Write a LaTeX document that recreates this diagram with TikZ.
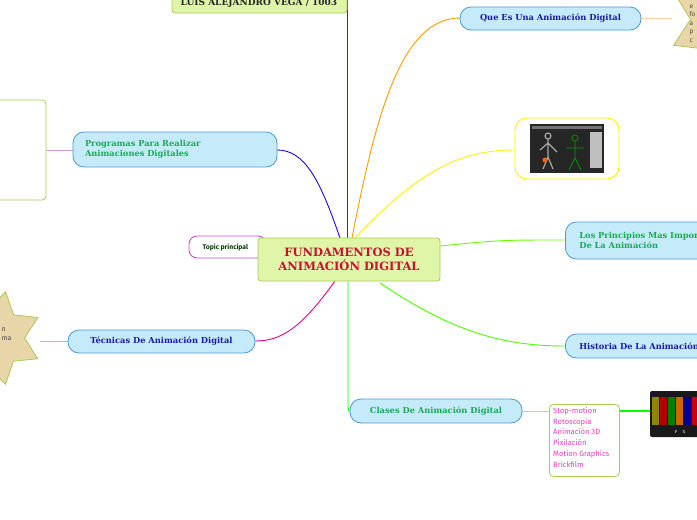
\documentclass[tikz,border=0pt]{standalone}
\usepackage{fontspec}
\setmainfont{DejaVu Serif}
\newfontfamily\sans{Fira Sans}
\usetikzlibrary{shapes.geometric}
\definecolor{bfill}{HTML}{C5EBFA}
\definecolor{bline}{HTML}{4A9AD4}
\definecolor{gfill}{HTML}{DFF5A8}
\definecolor{gline}{HTML}{A8CC55}
\definecolor{dblue}{HTML}{1A1AA0}
\definecolor{tgreen}{HTML}{1AAA55}
\definecolor{crim}{HTML}{C8102E}
\definecolor{sfill}{HTML}{E8D5A8}
\definecolor{pinkt}{HTML}{E040C0}
\tikzset{
 sub/.style={draw=bline,fill=bfill,rounded corners=11pt,line width=0.8pt,font=\bfseries\fontsize{8.3}{10}\selectfont,align=left,inner sep=0pt},
 lnk/.style={line width=0.9pt},
}
\begin{document}
\begin{tikzpicture}[x=1pt,y=-1pt]
\useasboundingbox (0,0) rectangle (697,520);
\clip (0,0) rectangle (697,520);
% connectors
\draw[lnk,blue!80!cyan] (347,238) -- (347,0);
\draw[lnk,orange!80!yellow] (352,238) .. controls (375,120) and (400,18) .. (460,18);
\draw[lnk,yellow] (355,238) .. controls (420,170) and (460,150) .. (515,150);
\draw[lnk,green!60!yellow] (440,246) .. controls (500,240) .. (565,240);
\draw[lnk,green!70!yellow] (380,283) .. controls (450,330) and (500,346) .. (565,346);
\draw[lnk,green] (348,281) -- (348,405) .. controls (348,411) .. (352,411);
\draw[lnk,magenta] (335,281) .. controls (300,330) and (280,341) .. (255,341);
\draw[lnk,blue!70!violet] (340,238) .. controls (320,180) and (305,150) .. (277,150);
\draw[violet!40,line width=0.6pt] (46,150) -- (73,150);
\draw[magenta!40,line width=0.6pt] (40,341) -- (68,341);
\draw[orange!35,line width=0.6pt] (641,18) -- (672,18);
\draw[green!50,line width=0.6pt] (522,411) -- (549,411);
\draw[green,line width=1.3pt] (619,411) -- (697,411);
% top node
\draw[gline,fill=gfill,rounded corners=3pt,line width=0.8pt] (172,-15) rectangle (347,13);
\node[font=\bfseries\fontsize{9}{10}\selectfont,text=black!85] at (259,3) {LUIS ALEJANDRO VEGA / 1003};
% topic principal
\draw[draw=violet!60!magenta!70,fill=white,rounded corners=8pt,line width=0.9pt] (189,236) rectangle (266,258);
\node[font=\sans\bfseries\fontsize{6.8}{8}\selectfont,text=black!75!green,anchor=west] (tp) at (199,247) {Topic principal};
% central
\node[draw=gline,fill=gfill,rounded corners=3pt,line width=0.8pt,minimum width=182pt,minimum height=43pt,align=center,text=crim,font=\bfseries\fontsize{11.5}{13.5}\selectfont,inner sep=0pt] (cen) at (349,259.5) {FUNDAMENTOS DE\\ANIMACIÓN DIGITAL};
% left box
\draw[gline,fill=white,rounded corners=4pt,line width=0.8pt] (-10,100) rectangle (46,200);
\node[sub,minimum width=204pt,minimum height=35pt,text=tgreen,text width=180pt] (prog) at (175,149.5) {Programas Para Realizar\\Animaciones Digitales};
% left star
\node[star,star points=7,star point ratio=1.6,draw=gline,fill=sfill,line width=0.8pt,minimum size=95pt,inner sep=0pt,rotate=-13] (ls) at (-5,338) {};
\node[font=\sans\fontsize{7}{9}\selectfont,anchor=west,align=left,text=black!70] at (-2,334) {n\\ma};
\node[sub,minimum width=187pt,minimum height=23pt,text=dblue,align=center] (tec) at (161.5,341.5) {Técnicas De Animación Digital};
% Que es
\node[sub,minimum width=181pt,minimum height=23pt,text=dblue,align=center] (que) at (550.5,18.5) {Que Es Una Animación Digital};
\node[star,star points=7,star point ratio=1.6,draw=gline,fill=sfill,line width=0.8pt,minimum size=120pt,inner sep=0pt,rotate=12] (rs) at (728,20) {};
\node[font=\sans\fontsize{6.5}{8.5}\selectfont,anchor=north west,align=left,text=black!70] at (686,1) {e\\fo\\a\\p\\c};
% image node
\draw[yellow,fill=white,rounded corners=12pt,line width=0.9pt] (515,118) rectangle (619,179);
\node[fill=black!85,minimum width=74pt,minimum height=49pt,inner sep=0pt] (img) at (567,148.5) {};
\fill[black!55] (532,126) rectangle (602,129);
\draw[green!60!black,line width=0.7pt] (575,138) circle (3) (575,141)--(575,158)--(569,170) (575,158)--(581,170) (566,148)--(584,148);
\draw[gray!70,line width=1.2pt] (548,136) circle (3) (548,139)--(548,157)--(543,169) (548,157)--(553,169) (540,150)--(548,143)--(557,152);
\fill[orange!80!red] (545,160) circle (2.5);
\fill[gray!50] (590,132) rectangle (602,168);
% principios
\node[sub,minimum width=160pt,minimum height=37pt,text=tgreen,text width=220pt,anchor=west] (pri) at (565,240.5) {\hspace*{14pt}Los Principios Mas Importantes\\\hspace*{14pt}De La Animación};
\node[sub,minimum width=160pt,minimum height=24pt,text=dblue,anchor=west,text width=200pt] (his) at (565,346) {\hspace*{14pt}Historia De La Animación};
% clases
\node[sub,minimum width=172pt,minimum height=24pt,text=tgreen,align=center] (cla) at (436,411) {Clases De Animación Digital};
\node[draw=gline,fill=white,rounded corners=4pt,line width=0.8pt,minimum width=70pt,minimum height=72pt,anchor=north west,inner sep=0pt] (lst) at (549,404) {};
\node[font=\sans\fontsize{7.6}{10.9}\selectfont,text=pinkt,align=left,anchor=north west,inner sep=0pt] at (553,407) {Stop-motion\\Rotoscopia\\Animación 3D\\Pixilación\\Motion Graphics\\Brickfilm};
% pixar image
\fill[black!90,rounded corners=2pt] (650,391) rectangle (710,437);
\foreach \x/\c in {652/olive,660/red!70!black,668/green!50!black,676/orange!80!black,684/blue!60!black,692/red!80!black}
  \fill[\c] (\x,397) rectangle (\x+7,425);
\node[font=\fontsize{4}{4}\selectfont,text=white] at (680,432) {P \quad X};
\end{tikzpicture}
\end{document}
